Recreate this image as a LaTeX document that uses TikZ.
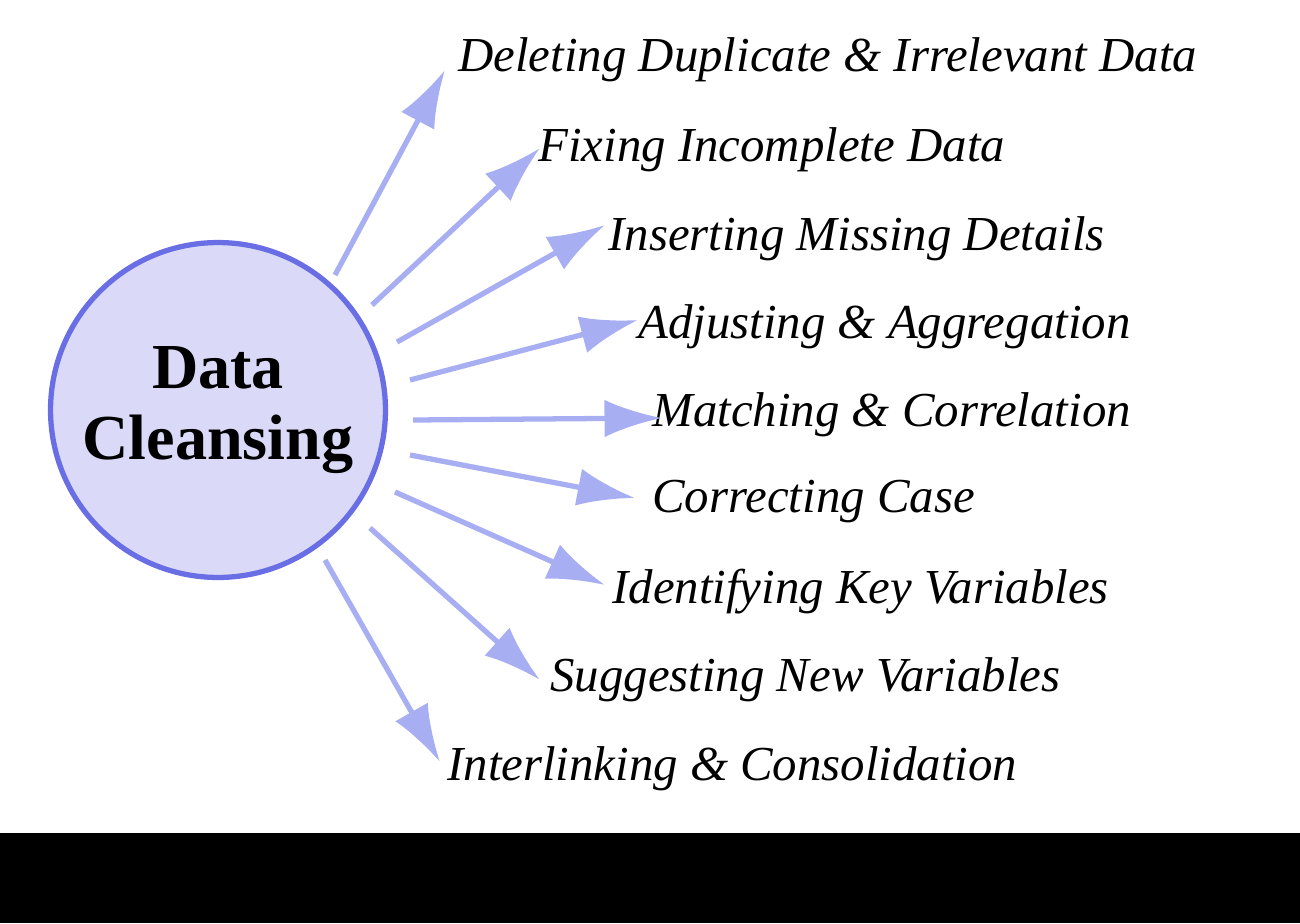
\documentclass[tikz,border=0pt]{standalone}
\usepackage{fontspec}
\setmainfont{Liberation Serif}
\usetikzlibrary{arrows.meta,positioning}
\definecolor{ballfill}{RGB}{218,218,248}
\definecolor{balledge}{RGB}{105,110,228}
\definecolor{arrowblue}{RGB}{168,174,242}
\tikzset{
  item/.style={anchor=west, inner sep=0pt, font=\fontsize{27.8}{32}\selectfont\itshape},
  spoke/.style={draw=arrowblue, line width=3pt,
    -{Latex[length=1.15cm, width=0.75cm]}},
}
\begin{document}
\begin{tikzpicture}[x=0.02cm,y=-0.02cm]
\useasboundingbox (0,0) rectangle (1300,923);
\fill[black] (0,833) rectangle (1300,923);

\node[circle, fill=ballfill, draw=balledge, line width=3pt, minimum size=6.7cm,
  align=center, font=\fontsize{36.5}{40}\selectfont\bfseries] (HUB) at (218,410) {Data\\Cleansing};

\node[item] (DEL) at (458,60) {Deleting Duplicate \& Irrelevant Data};
\node[item] (FIX) at (538,150) {Fixing Incomplete Data};
\node[item] (INS) at (608,239) {Inserting Missing Details};
\node[item] (ADJ) at (638,327) {Adjusting \& Aggregation};
\node[item] (MAT) at (652,415) {Matching \& Correlation};
\node[item] (COR) at (652,502) {Correcting Case};
\node[item] (IDE) at (612,592) {Identifying Key Variables};
\node[item] (SUG) at (550,680) {Suggesting New Variables};
\node[item] (INT) at (447,769) {Interlinking \& Consolidation};

% spokes: start near the ball, tip near the label
\foreach \name/\sx/\sy/\tx/\ty in {
  DEL/335/275/445/70, FIX/372/305/540/148, INS/397/342/605/225,
  ADJ/410/380/638/320, MAT/413/420/662/418, COR/410/455/635/498,
  IDE/395/492/605/585, SUG/370/528/540/680, INT/325/560/440/762}{
  \coordinate (\name START) at (\sx,\sy);
  \coordinate (\name TIP) at (\tx,\ty);
  \draw[spoke] (\name START) -- (\name TIP);
}
\end{tikzpicture}
\end{document}
